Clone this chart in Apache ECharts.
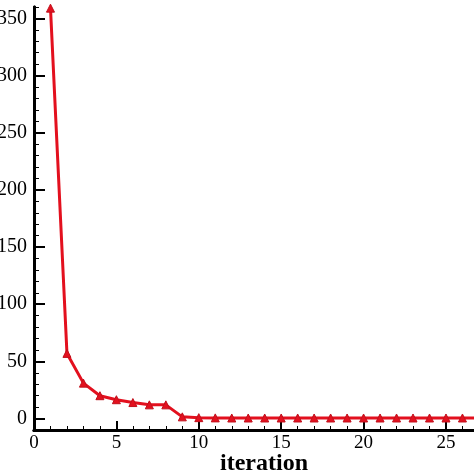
<!DOCTYPE html>
<html><head><meta charset="utf-8">
<script src="https://cdn.jsdelivr.net/npm/echarts@6/dist/echarts.min.js"></script>
<style>html,body{margin:0;padding:0;background:#fff}#c{width:474px;height:474px}</style>
</head><body><div id="c"></div>
<script>
const iterations = [1,2,3,4,5,6,7,8,9,10,11,12,13,14,15,16,17,18,19,20,21,22,23,24,25,26,27];
const values = [359,57,31,20,16.5,14,12,12,1.5,0.8,0.6,0.5,0.5,0.5,0.5,0.5,0.5,0.5,0.5,0.5,0.5,0.5,0.5,0.5,0.5,0.5,0.5];
const yTickLabels = [0,50,100,150,200,250,300,350];
const xTickLabels = [0,5,10,15,20,25];

const font = 'Liberation Serif';
const chart = echarts.init(document.getElementById('c'), null, {renderer:'canvas'});
const axisLine = {show:true, onZero:false, lineStyle:{color:'#000', width:3}};
chart.setOption({
  animation:false,
  backgroundColor:'#fff',
  grid:{left:34, right:0, top:7, bottom:44, containLabel:false, outerBoundsMode:'none'},
  xAxis:[
    {type:'value', min:0, max:26.7, interval:1, position:'bottom',
     axisLine:axisLine,
     axisTick:{show:true, inside:true, length:4, lineStyle:{color:'#000', width:1}},
     axisLabel:{show:false}, splitLine:{show:false},
     name:'iteration', nameLocation:'middle', nameGap:22,
     nameTextStyle:{fontFamily:font, fontWeight:'bold', fontSize:24, color:'#000', padding:[0,0,0,20]}},
    {type:'value', min:0, max:26.7, position:'bottom',
     axisLine:axisLine,
     axisTick:{show:true, inside:true, length:9, customValues:xTickLabels, lineStyle:{color:'#000', width:2}},
     axisLabel:{show:true, customValues:xTickLabels, margin:4, fontFamily:font, fontSize:19, color:'#000'},
     splitLine:{show:false}}
  ],
  yAxis:[
    {type:'value', min:-10, max:360, interval:10, position:'left',
     axisLine:axisLine,
     axisTick:{show:true, inside:true, length:5, lineStyle:{color:'#000', width:1}},
     axisLabel:{show:false}, splitLine:{show:false}},
    {type:'value', min:-10, max:360, position:'left',
     axisLine:axisLine,
     axisTick:{show:true, inside:true, length:11, customValues:yTickLabels, lineStyle:{color:'#000', width:2}},
     axisLabel:{show:true, customValues:yTickLabels, margin:7, fontFamily:font, fontSize:20, color:'#000'},
     splitLine:{show:false}}
  ],
  series:[{
    type:'line', xAxisIndex:0, yAxisIndex:0,
    data: iterations.map((x,i)=>[x, values[i]]),
    symbol:'triangle', symbolSize:8, showAllSymbol:true,
    clip:true,
    lineStyle:{color:'#e3101e', width:3},
    itemStyle:{color:'#e3101e', borderColor:'#c0101c', borderWidth:1}
  }]
});
</script></body></html>
